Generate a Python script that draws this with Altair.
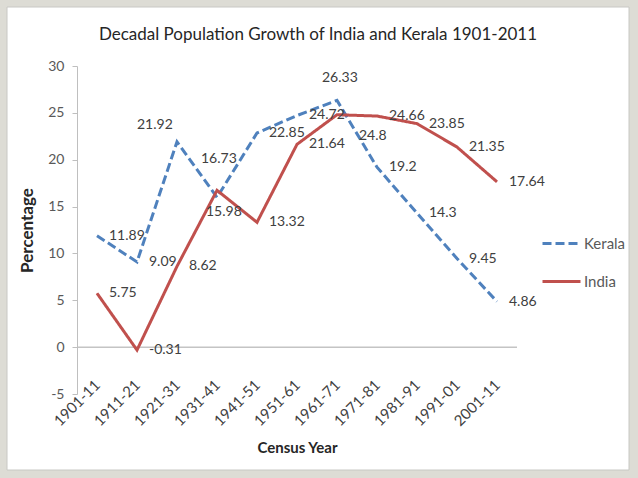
import altair as alt
import pandas as pd

# Census decades and decadal growth (%) for each series
periods = ["1901-11", "1911-21", "1921-31", "1931-41", "1941-51", "1951-61",
           "1961-71", "1971-81", "1981-91", "1991-01", "2001-11"]
kerala = [11.89, 9.09, 21.92, 15.98, 22.85, 24.72, 26.33, 19.2, 14.3, 9.45, 4.86]
india = [5.75, -0.31, 8.62, 16.73, 13.32, 21.64, 24.8, 24.66, 23.85, 21.35, 17.64]
series_names = ["Kerala", "India"]
series_colors = ["#4F81BD", "#C0504D"]
y_ticks = [-5, 0, 5, 10, 15, 20, 25, 30]

FONT = "Lato"

# Pixel nudges for value labels (left edge of text relative to its point)
DEFAULT_NUDGE = (12, 0)
LABEL_NUDGE = {
    ("Kerala", "1921-31"): (-40, -17),
    ("Kerala", "1931-41"): (-11, 15),
    ("Kerala", "1961-71"): (-15, -22),
    ("India", "1931-41"): (-16, -31),
    ("India", "1961-71"): (22, 21),
}

rows = []
for name, values in zip(series_names, [kerala, india]):
    for period, v in zip(periods, values):
        rows.append({"series": name, "period": period, "value": v,
                     "label": f"{v:g}", "key": f"{name}|{period}"})
df = pd.DataFrame(rows)

x_enc = alt.X(
    "period:N", sort=periods,
    scale=alt.Scale(type="point", padding=0.5),
    axis=alt.Axis(
        title="Census Year", titleFont=FONT, titleFontSize=15, titleFontWeight="bold",
        titleColor="#262626", titlePadding=12,
        labelAngle=315, labelAlign="right", labelBaseline="middle", labelPadding=-12,
        labelFont=FONT, labelFontSize=15, labelColor="#404040",
        domain=False, ticks=False, zindex=1,
    ),
)
y_enc = alt.Y(
    "value:Q",
    scale=alt.Scale(domain=[-5, 30], nice=False, zero=False),
    axis=alt.Axis(
        values=y_ticks, grid=False, labelExpr="datum.value + ''",
        title="Percentage", titleFont=FONT, titleFontSize=17, titleFontWeight="bold",
        titleColor="#262626", titlePadding=11,
        labelFont=FONT, labelFontSize=14, labelColor="#595959", labelPadding=8,
        domainColor="#bfbfbf", tickColor="#bfbfbf", tickSize=5, zindex=1,
    ),
)

legend = alt.Legend(
    title=None, orient="none", legendX=464, legendY=157,
    symbolType="stroke", symbolSize=1444, symbolStrokeWidth=3,
    labelFont=FONT, labelFontSize=15, labelColor="#595959", labelOffset=2,
    rowPadding=9,
)
color_enc = alt.Color("series:N", scale=alt.Scale(domain=series_names, range=series_colors),
                      legend=legend)
dash_enc = alt.StrokeDash("series:N",
                          scale=alt.Scale(domain=series_names, range=[[9, 4], [1, 0]]),
                          legend=legend)

# White slide panel behind the chart
panel = alt.Chart(pd.DataFrame({"p": [0]})).mark_rect(
    fill="white", stroke="#c8c8c4", strokeWidth=1
).encode(x=alt.value(-70), x2=alt.value(552), y=alt.value(-59), y2=alt.value(404))

zero_line = alt.Chart(pd.DataFrame({"v": [0]})).mark_rule(
    color="#c4c4c4", strokeWidth=1.5
).encode(y=alt.Y("v:Q"))

lines = alt.Chart(df).mark_line(strokeWidth=3).encode(
    x=x_enc, y=y_enc, color=color_enc, strokeDash=dash_enc,
    order=alt.Order("period:N"),
)


def value_labels(keys, dx, dy, exclude=False):
    pred = alt.FieldOneOfPredicate(field="key", oneOf=keys)
    flt = {"not": pred} if exclude else pred
    return alt.Chart(df).transform_filter(flt).mark_text(
        align="left", baseline="middle", font=FONT, fontSize=14, color="#404040",
        dx=dx, dy=dy,
    ).encode(
        x=alt.X("period:N", sort=periods),
        y=alt.Y("value:Q"),
        text="label:N",
    )


nudged_keys = [f"{s}|{p}" for (s, p) in LABEL_NUDGE]
label_layers = [value_labels(nudged_keys, *DEFAULT_NUDGE, exclude=True)]
for (s, p), (dx, dy) in LABEL_NUDGE.items():
    label_layers.append(value_labels([f"{s}|{p}"], dx, dy))

chart = alt.layer(panel, zero_line, lines, *label_layers).properties(
    width=440, height=328,
    title=alt.TitleParams(
        "Decadal Population Growth of India and Kerala 1901-2011",
        font=FONT, fontSize=17, fontWeight="normal", color="#262626",
        anchor="middle", dx=21, offset=-50, baseline="alphabetic",
    ),
    background="#dddcd5",
    padding={"left": 77, "top": 66, "right": 121, "bottom": 84},
    autosize=alt.AutoSizeParams(type="none"),
).configure_view(stroke="transparent")

chart.save("out.html", embed_options={"renderer": "svg", "actions": False})
